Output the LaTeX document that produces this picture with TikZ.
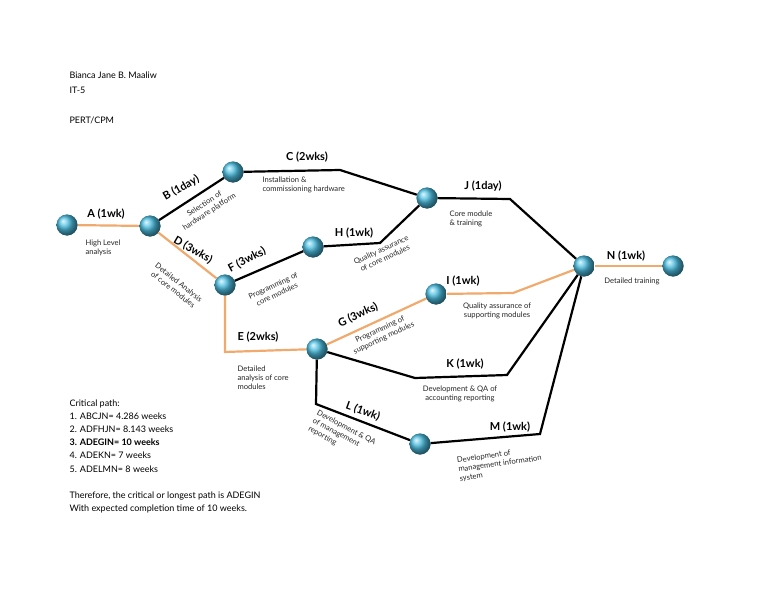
\documentclass[tikz,border=0pt]{standalone}
\usepackage{fontspec}
\setmainfont{Lato}
\definecolor{ballc}{RGB}{75,190,225}
\definecolor{critc}{RGB}{240,170,110}
\begin{document}
\begin{tikzpicture}[x=1pt,y=-1pt,
  ev/.style={circle,minimum size=21pt,inner sep=0pt,ball color=ballc,draw=none},
  blk/.style={line width=2.2pt,black},
  crit/.style={line width=2.2pt,color=critc},
  lab/.style={font=\bfseries\fontsize{11}{12}\selectfont},
  desc/.style={font=\fontsize{7.6}{9.2}\selectfont,align=left,text=black!85},
  body/.style={font=\fontsize{9}{13.2}\selectfont,anchor=west}]
\useasboundingbox[fill=white] (0,0) rectangle (768,594);
\node[ev] (n1) at (67,225) {};
\node[ev] (n2) at (150,226) {};
\node[ev] (n3) at (233,172) {};
\node[ev] (nD) at (225,285) {};
\node[ev] (nH) at (313,247) {};
\node[ev] (nJ) at (427,198) {};
\node[ev] (nE) at (317,349) {};
\node[ev] (nI) at (436,294) {};
\node[ev] (nM) at (420,444) {};
\node[ev] (nN) at (584,266) {};
\node[ev] (nEnd) at (673,266) {};
\coordinate (cC) at (340,170);
\coordinate (cH) at (380,243);
\coordinate (cE) at (224,352);
\coordinate (cI) at (513,293);
\coordinate (cK1) at (415,378);
\coordinate (cK2) at (507,375);
\coordinate (cL) at (316,404);
\coordinate (cM) at (540,434);
\coordinate (cJ) at (510,199);
\draw[crit] (n1) -- (n2);
\draw[crit] (n2) -- (nD);
\draw[crit] (nD) |- (cE) -- (nE);
\draw[crit] (nE) -- (nI);
\draw[crit] (nI) -- (cI) -- (nN);
\draw[crit] (nN) -- (nEnd);
\draw[blk] (n2) -- (n3);
\draw[blk] (n3) -- (cC) -- (nJ);
\draw[blk] (nD) -- (nH);
\draw[blk] (nH) -- (cH) -- (nJ);
\draw[blk] (nJ) -- (cJ) -- (nN);
\draw[blk] (nE) -- (cK1) -- (cK2) -- (nN);
\draw[blk] (nE) -- (cL) -- (nM);
\draw[blk] (nM) -- (cM) -- (nN);
\foreach \n in {n1,n2,n3,nD,nH,nJ,nE,nI,nM,nN,nEnd}{\node[ev] at (\n) {};}
\node[lab] (lA) at (106,214) {A (1wk)};
\node[desc,anchor=west] (dA) at (82,248) {High Level\\analysis};
\node[lab,rotate=30] (lB) at (181,188) {B (1day)};
\node[desc,rotate=33,align=center] (dB) at (207,208) {Selection of\\hardware platform};
\node[lab] (lC) at (307,157) {C (2wks)};
\node[desc,anchor=west] (dC) at (259,185) {Installation \&\\commissioning hardware};
\node[lab,rotate=-30] (lD) at (193,250) {D (3wks)};
\node[desc,rotate=-38,align=center] (dD) at (176,286) {Detailed Analysis\\of core modules};
\node[lab,rotate=28] (lF) at (247,260) {F (3wks)};
\node[desc,rotate=25,align=center] (dF) at (275,290) {Programming of\\core modules};
\node[lab] (lH) at (354,233) {H (1wk)};
\node[desc,rotate=25,align=center] (dH) at (383,254) {Quality assurance\\of core modules};
\node[lab] (lJ) at (483,186) {J (1day)};
\node[desc,anchor=west] (dJ) at (446,219) {Core module\\\& training};
\node[lab] (lN) at (626,256) {N (1wk)};
\node[desc] (dN) at (632,281) {Detailed training};
\node[lab] (lI) at (463,281) {I (1wk)};
\node[desc,align=center] (dI) at (497,311) {Quality assurance of\\supporting modules};
\node[lab,rotate=25] (lG) at (358,315) {G (3wks)};
\node[desc,rotate=25,align=center] (dG) at (382,334) {Programming of\\supporting modules};
\node[lab] (lE) at (258,337) {E (2wks)};
\node[desc,anchor=west] (dE) at (234,378) {Detailed\\analysis of core\\modules};
\node[lab] (lK) at (465,364) {K (1wk)};
\node[desc,align=center] (dK) at (460,394) {Development \& QA of\\accounting reporting};
\node[lab,rotate=-20] (lL) at (363,411) {L (1wk)};
\node[desc,rotate=-28,align=left] (dL) at (342,436) {Development \& QA\\of management\\reporting};
\node[lab] (lM) at (510,427) {M (1wk)};
\node[desc,rotate=8,align=left] (dM) at (500,464) {Development of\\management information\\system};
\node[body] (t1) at (66,75) {Bianca Jane B. Maaliw};
\node[body] (t2) at (66,90) {IT-5};
\node[body] (t3) at (66,120) {PERT/CPM};
\node[body,align=left,anchor=north west] (t4) at (66,396) {Critical path:\\1. ABCJN= 4.286 weeks\\2. ADFHJN= 8.143 weeks\\\textbf{3. ADEGIN= 10 weeks}\\4. ADEKN= 7 weeks\\5. ADELMN= 8 weeks};
\node[body,align=left,anchor=north west] (t5) at (66,488) {Therefore, the critical or longest path is ADEGIN\\With expected completion time of 10 weeks.};
\end{tikzpicture}
\end{document}
